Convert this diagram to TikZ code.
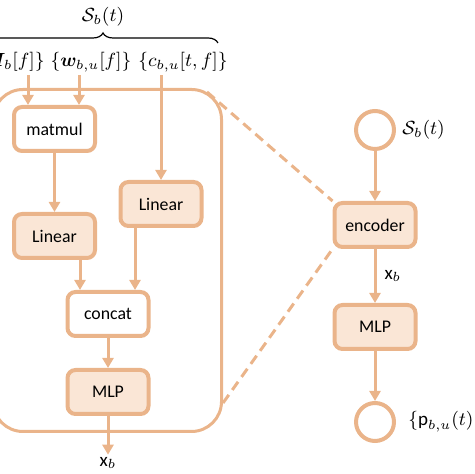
\RequirePackage{fix-cm}
\documentclass[tikz,border=0pt]{standalone}
\usepackage{amsmath,bm}
\usepackage{fontspec}
\setmainfont{Carlito}
\usetikzlibrary{arrows.meta, positioning, calc, decorations.pathreplacing}

\definecolor{orng}{RGB}{234,180,138}
\definecolor{peach}{RGB}{250,230,214}

\begin{document}
\begin{tikzpicture}[
        x=0.5pt, y=0.5pt,
        >={Triangle[width=5.5pt, length=5pt]},
        font=\fontsize{8.9}{10}\selectfont,
        opbox/.style={rectangle, draw=orng, line width=2pt, fill=white,
                      rounded corners=4pt, minimum width=40.5pt, minimum height=22pt,
                      align=center},
        layer/.style={opbox, fill=peach},
        panel/.style={rectangle, draw=orng, line width=1.5pt, rounded corners=15pt,
                      minimum width=114.25pt, minimum height=171pt},
        state/.style={circle, draw=orng, line width=2pt, fill=white, minimum size=19pt,
                      inner sep=0pt},
        mlbl/.style={font=\fontsize{9.5}{11}\selectfont, inner sep=1pt},
        arr/.style={->, draw=orng, line width=1.5pt},
        zoomln/.style={draw=orng, line width=1.5pt, dash pattern=on 5pt off 3pt}
    ]
    \useasboundingbox (0,0) rectangle (474,474);

    % enlarged encoder
    \node[panel] (panel) at (107.25,213.5) {};
    \node[opbox] (matmul) at (54.5,345) {matmul};
    \node[layer] (linA)   at (54.5,238) {Linear};
    \node[layer] (linB)   at (161,270)  {Linear};
    \node[opbox] (concat) at (108,160)  {concat};
    \node[layer] (mlpA)   at (108,82)   {MLP};
    \node[mlbl]  (xbA)    at (108,11)   {$\text{x}_b$};

    % inputs and brace
    \node[mlbl, anchor=east] (hin) at (47,412)  {$\{\bm{H}_b[f]\}$};
    \node[mlbl] (win) at (91,412)  {$\{\bm{w}_{b,u}[f]\}$};
    \node[mlbl] (cin) at (183,412) {$\{c_{b,u}[t,f]\}$};
    \coordinate (hsrc) at (28,399);
    \coordinate (wsrc) at (79,399);
    \coordinate (csrc) at (161,399);
    \coordinate (brl) at (-12,431);
    \coordinate (brr) at (218,431);
    \draw[line width=0.6pt, decorate, decoration={brace, amplitude=5pt}] (brl) -- (brr);
    \node[mlbl] (sin) at (103,457) {$\mathcal{S}_b(t)$};

    \draw[arr] (hsrc) -- (hsrc |- matmul.north);
    \draw[arr] (wsrc) -- (wsrc |- matmul.north);
    \draw[arr] (csrc) -- (linB.north);
    \draw[arr] (matmul) -- (linA);
    \draw[arr] (linA.south -| 80,0) -- (concat.north -| 80,0);
    \draw[arr] (linB.south -| 135,0) -- (concat.north -| 135,0);
    \draw[arr] (concat) -- (mlpA);
    \draw[arr] (mlpA) -- (xbA);

    % pipeline
    \node[state] (sIn)  at (375,344) {};
    \node[mlbl, right=2pt of sIn] (sInLbl) {$\mathcal{S}_b(t)$};
    \node[layer] (enc)  at (375,249) {encoder};
    \node[layer] (mlpB) at (375,147) {MLP};
    \node[state] (pOut) at (375,52)  {};
    \node[mlbl, right=5pt of pOut] (pOutLbl) {$\{\text{p}_{b,u}(t)\}$};

    \draw[arr] (sIn) -- (enc);
    \draw[arr] (enc) -- (mlpB) node[midway, right, mlbl, xshift=3pt]{$\text{x}_b$};
    \draw[arr] (mlpB) -- (pOut);

    % zoom lines
    \coordinate (ztop) at (207,382);
    \draw[zoomln] (ztop) -- (enc.north west);
    \draw[zoomln] ($(panel.south east)+(0,15pt)$) -- (enc.south west);
\end{tikzpicture}
\end{document}
